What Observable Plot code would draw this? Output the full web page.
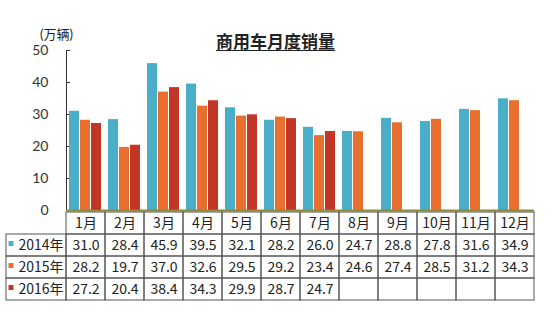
<!DOCTYPE html>
<html>
<head>
<meta charset="utf-8">
<script src="https://cdn.jsdelivr.net/npm/d3@7"></script>
<script src="https://cdn.jsdelivr.net/npm/@observablehq/plot@0.6"></script>
<style>
  body { margin: 0; background: #fff; font-family: "Noto Sans CJK SC", sans-serif; }
  #wrap { position: relative; width: 558px; height: 320px; overflow: hidden; }
  #wrap > * { position: absolute; }
  #title { left: 0; top: 31px; width: 551px; text-align: center; font-size: 17px; font-weight: bold;
           text-decoration: underline; text-underline-offset: 2px; color: #222; line-height: 20px; }
</style>
</head>
<body>
<div id="wrap">
  <div id="title">商用车月度销量</div>
</div>
<script>
// Monthly commercial vehicle sales, 10k units
const months = ["1月", "2月", "3月", "4月", "5月", "6月", "7月", "8月", "9月", "10月", "11月", "12月"];
const years = ["2014年", "2015年", "2016年"];
const sales2014 = [31.0, 28.4, 45.9, 39.5, 32.1, 28.2, 26.0, 24.7, 28.8, 27.8, 31.6, 34.9];
const sales2015 = [28.2, 19.7, 37.0, 32.6, 29.5, 29.2, 23.4, 24.6, 27.4, 28.5, 31.2, 34.3];
const sales2016 = [27.2, 20.4, 38.4, 34.3, 29.9, 28.7, 24.7];
const yTicks = [0, 10, 20, 30, 40, 50];
const unitLabel = "(万辆)";
const colors = ["#4aaec8", "#e86f2e", "#c33527"];

const series = [sales2014, sales2015, sales2016];
const rows = [];
years.forEach((yr, i) => series[i].forEach((v, j) => rows.push({year: yr, month: months[j], value: v})));

const font = "'Noto Sans CJK SC', sans-serif";
const axisFont = "Lato, 'Noto Sans CJK SC', sans-serif";
const fmt = d3.format(".1f");
const wrap = document.getElementById("wrap");

// Grouped bar chart: one facet per month, one bar per year
const chart = Plot.plot({
  width: 558,
  height: 225,
  marginLeft: 66,
  marginRight: 24,
  marginTop: 50,
  marginBottom: 15,
  style: {background: "transparent", fontFamily: axisFont, fontSize: "14px", color: "#333"},
  fx: {domain: months, padding: 0, axis: null, label: null},
  x: {domain: years, paddingInner: 0.09, paddingOuter: 0.31, axis: null},
  y: {domain: [0, 50], ticks: yTicks, tickSize: -4, tickPadding: 22, line: true, label: null},
  color: {domain: years, range: colors},
  marks: [
    Plot.barY(rows, {fx: "month", x: "year", y: "value", fill: "year"}),
    Plot.ruleY([0], {stroke: "#8e8b40", strokeWidth: 2}),
    Plot.text([unitLabel], {fx: () => months[0], text: d => d, frameAnchor: "top-left",
      textAnchor: "middle", lineAnchor: "middle", dx: -10, dy: -16, fontSize: 13, fill: "#222"})
  ]
});
chart.style.left = "0px";
chart.style.top = "0px";
wrap.appendChild(chart);

// Data table under the chart
const rowKeys = ["header", ...years];
const cells = [];
rowKeys.forEach((r, i) => months.forEach((m, j) => {
  let text = m;
  if (r !== "header") {
    const v = series[i - 1][j];
    text = v === undefined ? "" : fmt(v);
  }
  cells.push({row: r, month: m, text});
}));

const table = Plot.plot({
  width: 470,
  height: 92,
  marginLeft: 1,
  marginRight: 1,
  marginTop: 1,
  marginBottom: 1,
  style: {background: "transparent", fontFamily: font, fontSize: "14px", color: "#222"},
  x: {domain: months, padding: 0, axis: null},
  y: {domain: rowKeys, padding: 0, axis: null},
  marks: [
    Plot.cell(cells, {x: "month", y: "row", fill: "none", stroke: "#555"}),
    Plot.text(cells, {x: "month", y: "row", text: "text", fontSize: 14, fill: "#222"})
  ]
});
table.style.left = "65px";
table.style.top = "210px";
wrap.appendChild(table);

// Row labels with colour swatches
const labels = Plot.plot({
  width: 67,
  height: 92,
  marginLeft: 6,
  marginRight: 1,
  marginTop: 1,
  marginBottom: 1,
  style: {background: "transparent", fontFamily: font, fontSize: "14px", color: "#222"},
  y: {domain: rowKeys, padding: 0, axis: null},
  color: {domain: years, range: colors},
  marks: [
    Plot.cell(years, {y: d => d, fill: "none", stroke: "#555"}),
    Plot.dot(years, {y: d => d, frameAnchor: "left", dx: 4.5, dy: -2, symbol: "square", r: 2.8, fill: d => d}),
    Plot.text(years, {y: d => d, text: d => d, frameAnchor: "right", textAnchor: "end", dx: -3, fontSize: 14, fill: "#222"})
  ]
});
labels.style.left = "0px";
labels.style.top = "210px";
wrap.appendChild(labels);
</script>
</body>
</html>
